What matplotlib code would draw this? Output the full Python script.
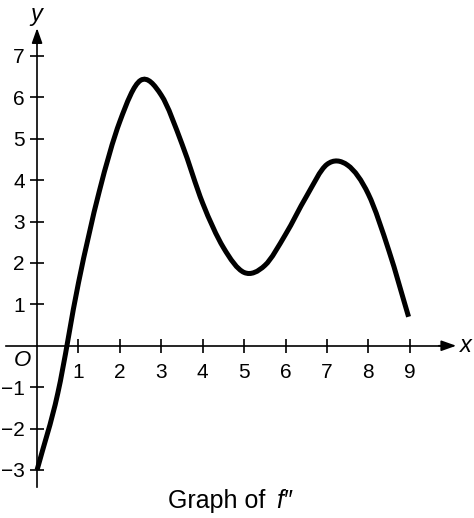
import matplotlib
matplotlib.use("Agg")
import matplotlib.pyplot as plt
from matplotlib.path import Path
from matplotlib.patches import PathPatch

plt.rcParams['font.family'] = ['Liberation Sans', 'DejaVu Sans']

# values
xs = [0, 0.5, 1.0, 1.5, 2.0, 2.5, 3.0, 3.5, 4.0, 4.5, 5.0, 5.5,
      6.0, 6.5, 7.0, 7.5, 8.0, 8.5, 8.97]
ys = [-3, -1.15, 1.52, 3.72, 5.42, 6.41, 6.05, 4.87, 3.44, 2.37, 1.77, 1.94,
      2.69, 3.6, 4.38, 4.36, 3.66, 2.28, 0.7]
xticks = [1, 2, 3, 4, 5, 6, 7, 8, 9]
yticks = [-3, -2, -1, 1, 2, 3, 4, 5, 6, 7]

W, H = 474, 518
fig = plt.figure(figsize=(W / 100, H / 100), dpi=100)
ax = fig.add_axes([0, 0, 1, 1])
ax.set_xlim(-0.895, 10.55)
ax.set_ylim(-4.16, 8.35)

# smooth stroke through the read points (cubic Hermite pieces as Beziers)
n = len(xs)
slopes = []
for i in range(n):
    a = max(i - 1, 0)
    b = min(i + 1, n - 1)
    slopes.append((ys[b] - ys[a]) / (xs[b] - xs[a]))
verts = [(xs[0], ys[0])]
codes = [Path.MOVETO]
for i in range(n - 1):
    h = xs[i + 1] - xs[i]
    verts += [(xs[i] + h / 3, ys[i] + slopes[i] * h / 3),
              (xs[i + 1] - h / 3, ys[i + 1] - slopes[i + 1] * h / 3),
              (xs[i + 1], ys[i + 1])]
    codes += [Path.CURVE4] * 3
ax.add_patch(PathPatch(Path(verts, codes), facecolor='none', edgecolor='black',
                       lw=3.6, capstyle='butt', zorder=3))

for s in ['top', 'right']:
    ax.spines[s].set_visible(False)
ax.spines['left'].set_position('zero')
ax.spines['bottom'].set_position('zero')
ax.spines['left'].set_bounds(-3.4, 7.4)
ax.spines['bottom'].set_bounds(-0.76, 9.9)
for s in ['left', 'bottom']:
    ax.spines[s].set_linewidth(1.2)

ax.set_xticks(xticks)
ax.set_yticks(yticks)
ax.tick_params(direction='inout', length=10.5, width=1.2, labelsize=15)
ax.tick_params(axis='x', pad=7)
ax.tick_params(axis='y', pad=3.5)

# arrow heads
ax.annotate('', xy=(10.12, 0), xytext=(9.7, 0),
            arrowprops=dict(arrowstyle='-|>,head_length=0.9,head_width=0.32',
                            color='black', lw=1.2, shrinkA=0, shrinkB=0))
ax.annotate('', xy=(0, 7.67), xytext=(0, 7.3),
            arrowprops=dict(arrowstyle='-|>,head_length=0.9,head_width=0.32',
                            color='black', lw=1.2, shrinkA=0, shrinkB=0))

ax.text(10.35, 0.0, 'x', fontsize=17, style='italic', ha='center', va='center')
ax.text(-0.02, 8.0, 'y', fontsize=17, style='italic', ha='center', va='center')
ax.text(-0.35, -0.36, 'O', fontsize=16, style='italic', ha='center', va='center')

fig.text(168 / W, 1 - 508 / H, 'Graph of', fontsize=18, ha='left', va='baseline')
fig.text(276 / W, 1 - 508 / H, 'f\u2033', fontsize=18, style='italic',
         ha='left', va='baseline')

fig.savefig('out.png', dpi=100)
